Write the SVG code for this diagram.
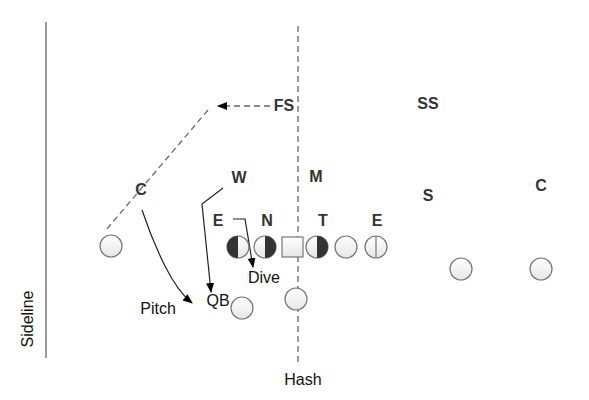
<svg xmlns="http://www.w3.org/2000/svg" width="589" height="400" viewBox="0 0 589 400">
<defs>
<linearGradient id="g" x1="0" y1="0" x2="0" y2="1"><stop offset="0" stop-color="#ffffff"/><stop offset="1" stop-color="#e6e6e6"/></linearGradient>
<marker id="ah" markerWidth="10" markerHeight="10" refX="9" refY="4" orient="auto" markerUnits="userSpaceOnUse"><path d="M0,0 L10,4 L0,8 Z" fill="#000"/></marker>
<style>
.lbl{font-family:"Liberation Sans",Arial,sans-serif;font-weight:bold;font-size:16px;fill:#333;text-anchor:middle}
.txt{font-family:"Liberation Sans",Arial,sans-serif;font-size:16px;fill:#111;text-anchor:middle}
.p{fill:url(#g);stroke:#777;stroke-width:1.2}
.dk{fill:#333}
.dash{fill:none;stroke:#666;stroke-width:1.3;stroke-dasharray:6 4}
.arr{fill:none;stroke:#222;stroke-width:1.2;marker-end:url(#ah)}
</style>
</defs>
<rect width="589" height="400" fill="#fff"/>
<g id="sideline"><line x1="46" y1="22" x2="46" y2="358" stroke="#777" stroke-width="1.5"/><text class="txt" transform="translate(33,319) rotate(-90)">Sideline</text></g>
<g id="hash"><line x1="298" y1="26" x2="298" y2="362" class="dash"/><text class="txt" x="303" y="385">Hash</text></g>
<g id="connectors">
<line x1="270" y1="106" x2="218" y2="106" class="dash" marker-end="url(#ah)"/>
<line x1="208" y1="110" x2="106" y2="230" class="dash"/>
<path d="M142,210 Q152,240 165,266 T192,303" class="arr"/>
<polyline points="223,188 202,204 211,292" class="arr"/>
<polyline points="233,219 245,219 253,267" class="arr"/>
</g>
<g id="p-wr"><circle cx="111" cy="246" r="11" class="p"/></g>
<g id="p-e-left"><circle cx="238" cy="247" r="11" class="p"/><path d="M238,236 A11,11 0 0 0 238,258 Z" class="dk"/></g>
<g id="p-n"><circle cx="265" cy="247" r="11" class="p"/><path d="M265,236 A11,11 0 0 1 265,258 Z" class="dk"/></g>
<g id="p-center"><rect x="282" y="237" width="21" height="20" class="p"/></g>
<g id="p-t"><circle cx="317" cy="247" r="11" class="p"/><path d="M317,236 A11,11 0 0 1 317,258 Z" class="dk"/></g>
<g id="p-g"><circle cx="346" cy="247" r="11" class="p"/></g>
<g id="p-e-right"><circle cx="376" cy="247" r="11" class="p"/><line x1="376" y1="236" x2="376" y2="258" stroke="#777" stroke-width="1.2"/></g>
<g id="p-qb"><circle cx="242" cy="308" r="11" class="p"/></g>
<g id="p-rb"><circle cx="296" cy="299" r="11" class="p"/></g>
<g id="p-r1"><circle cx="461" cy="269" r="11" class="p"/></g>
<g id="p-r2"><circle cx="541" cy="269" r="11" class="p"/></g>
<g id="d-fs"><text class="lbl" x="284" y="111">FS</text></g>
<g id="d-ss"><text class="lbl" x="428" y="109">SS</text></g>
<g id="d-w"><text class="lbl" x="239" y="183">W</text></g>
<g id="d-m"><text class="lbl" x="316" y="182">M</text></g>
<g id="d-c-left"><text class="lbl" x="141" y="195">C</text></g>
<g id="d-s"><text class="lbl" x="428" y="201">S</text></g>
<g id="d-c-right"><text class="lbl" x="541" y="191">C</text></g>
<g id="d-e-left"><text class="lbl" x="218" y="226">E</text></g>
<g id="d-n"><text class="lbl" x="267" y="226">N</text></g>
<g id="d-t"><text class="lbl" x="323" y="226">T</text></g>
<g id="d-e-right"><text class="lbl" x="377" y="226">E</text></g>
<g id="t-dive"><text class="txt" x="264" y="283">Dive</text></g>
<g id="t-qb"><text class="txt" x="218" y="306">QB</text></g>
<g id="t-pitch"><text class="txt" x="158" y="314">Pitch</text></g>
</svg>
